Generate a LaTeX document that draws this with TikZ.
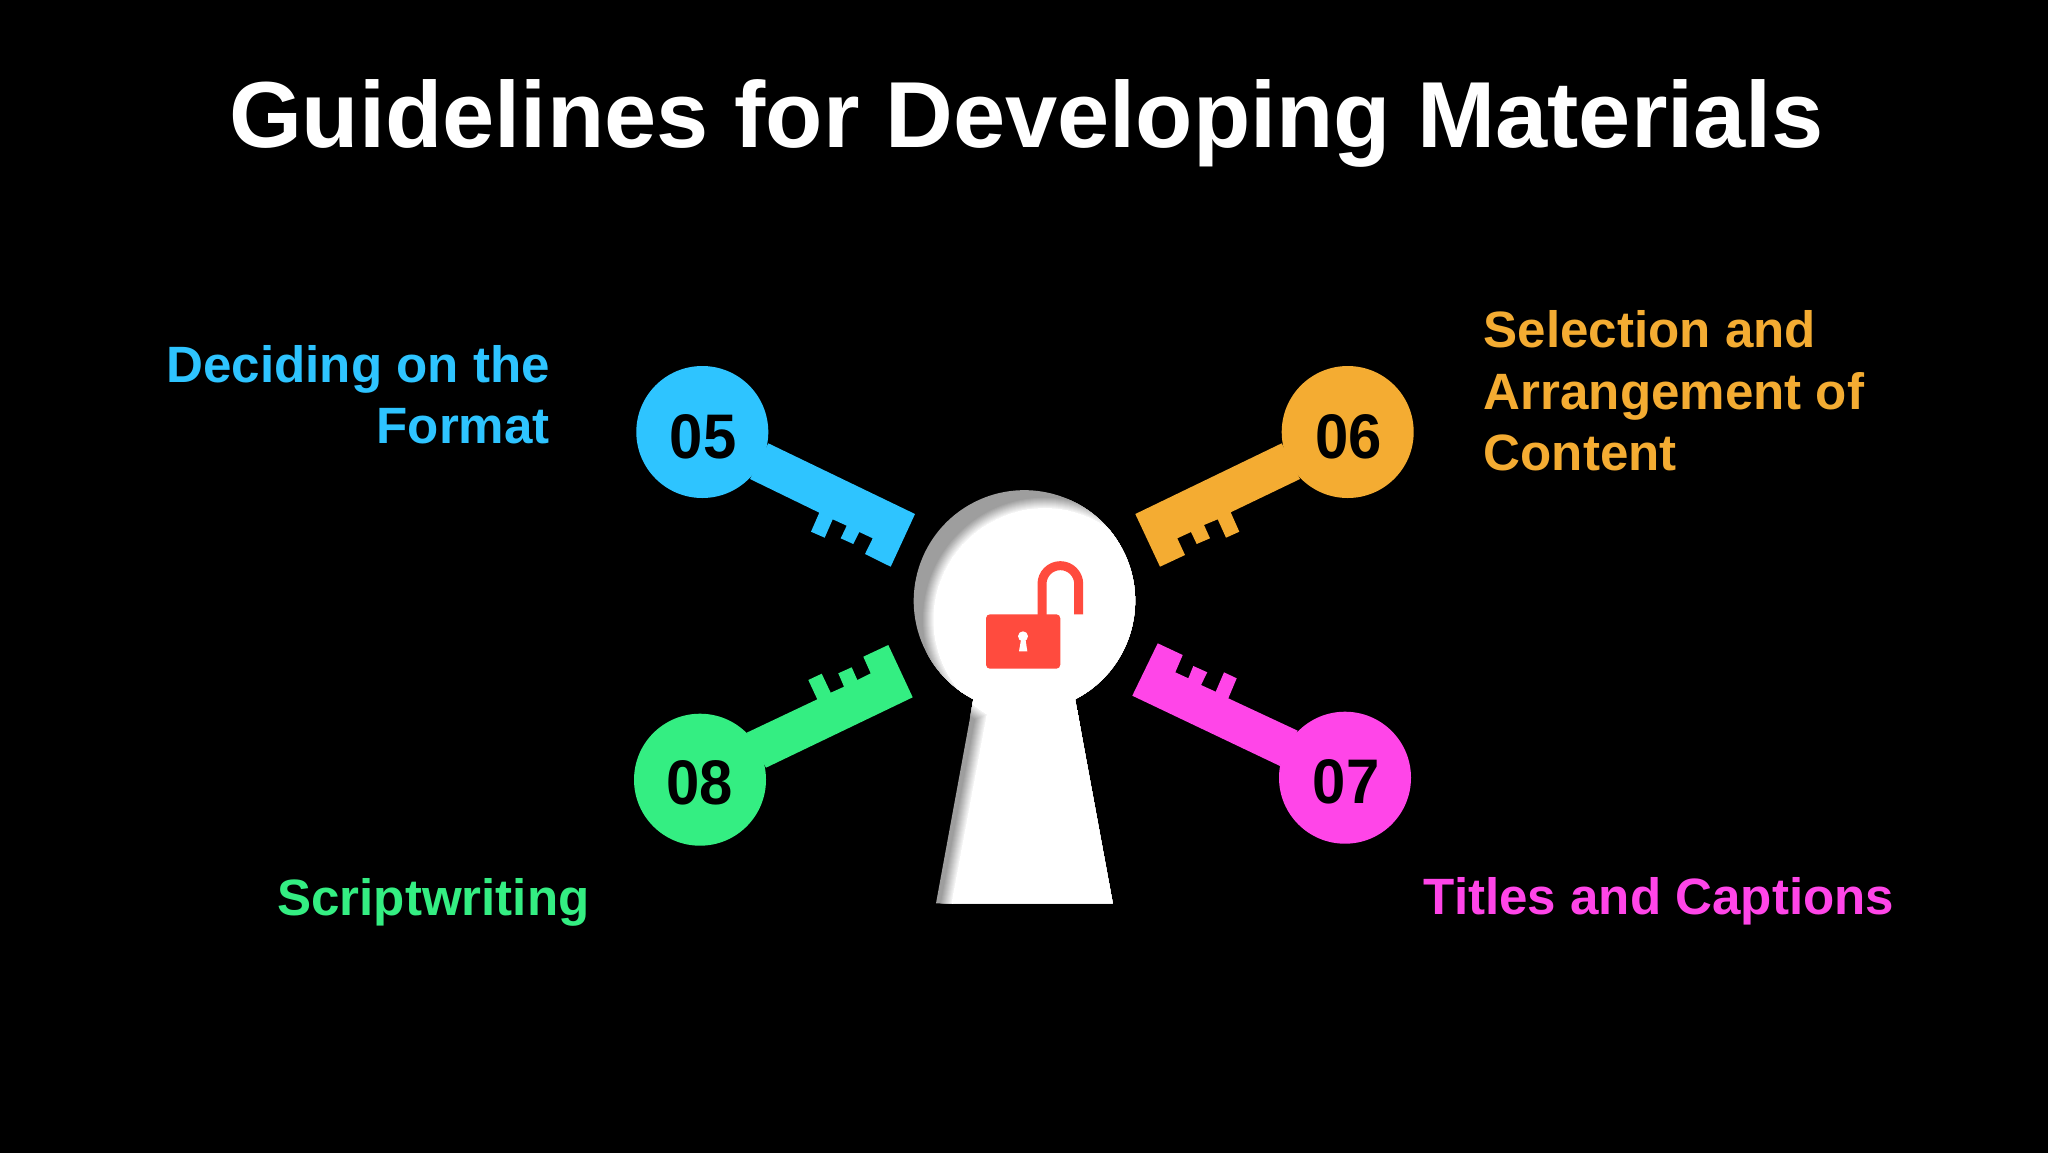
\documentclass[tikz,border=0pt]{standalone}
\usepackage{fontspec}
\setmainfont{Liberation Sans}
\definecolor{kblue}{HTML}{2EC4FF}
\definecolor{korange}{HTML}{F4AC32}
\definecolor{kmagenta}{HTML}{FF45E8}
\definecolor{kgreen}{HTML}{34EE82}
\definecolor{lockred}{HTML}{FF4B3E}
\tikzset{
  titletext/.style={text=white,font=\fontsize{93.8}{100}\selectfont\bfseries,inner sep=0pt},
  labeltext/.style={font=\fontsize{51.1}{61.4}\selectfont\bfseries,inner sep=0pt},
  numtext/.style={text=black,font=\fontsize{63}{63}\selectfont\bfseries,inner sep=0pt},
  keybow/.style={circle,minimum size=132pt,inner sep=0pt,draw=none},
}
\newcommand{\headpath}{(1024.7,601.4) circle[radius=110.7]}
\newcommand{\holepath}{(1075,699.3) arc[start angle=62.8,end angle=-242.6,radius=110.7] -- (936,903.3) -- (1112.7,903.3) -- cycle}
\newcommand{\stempath}{(974,699.3) -- (1075,699.3) -- (1112.7,903.3) -- (936,903.3) -- cycle}
\newcommand{\numlabel}[1]{\scalebox{0.95}[1]{#1}}
\begin{document}
\begin{tikzpicture}[x=1pt,y=1pt,yscale=-1]
\useasboundingbox (0,0) rectangle (2048,1152);
\fill[black] (-5,-5) rectangle (2053,1157);

\node[titletext] (title) at (1026.5,123.5) {Guidelines for Developing Materials};

% keyhole with inner shadow
\begin{scope}
  \clip \holepath;
  \fill[black!38] (900,470) rectangle (1150,920);
  \foreach \i in {0,...,12}{
    \pgfmathsetmacro{\w}{24-2*\i}
    \pgfmathsetmacro{\p}{38-38*\i/12}
    \fill[black!\p,draw=black!\p,line width=\w pt,line join=round,shift={(20,18)}] \headpath;
    \fill[black!\p,draw=black!\p,line width=\w pt,line join=round,shift={(14,11)}] \stempath;
  }
\end{scope}

% open padlock
\draw[lockred,line width=9pt] (1042,620) -- (1042,584) arc[start angle=180,end angle=360,radius=18.35] -- (1078.7,614.3);
\fill[lockred,rounded corners=4pt] (986,614.3) rectangle (1060.3,668.7);
\fill[white] (1023,636.3) circle[radius=5];
\fill[white] (1021.3,638) -- (1019,651.3) -- (1027.3,651.3) -- (1025.3,638) -- cycle;

% keys
\fill[kblue] (768.3,443.3) -- (915,514) -- (890.7,566.7) -- (865,554) -- (872.7,538.3) -- (859.3,532) -- (853.3,544) -- (840.7,538.3) -- (846.7,525.7) -- (832.7,519.3) -- (824.7,537.7) -- (811,531.7) -- (819.3,512.7) -- (750,479) -- cycle;
\node[keybow,fill=kblue] (k5) at (702.3,432) {};
\node[numtext] (n5) at (703.2,436.5) {\numlabel{05}};

\fill[korange] (1281.7,443.3) -- (1135.3,514) -- (1160,566.7) -- (1185,555) -- (1177.3,538.3) -- (1191,532) -- (1196.7,544) -- (1210,538.3) -- (1204,525) -- (1217.7,519.3) -- (1226,537.7) -- (1239.3,531.7) -- (1230.7,512.3) -- (1300,479) -- cycle;
\node[keybow,fill=korange] (k6) at (1347.7,432) {};
\node[numtext] (n6) at (1348.6,436.5) {\numlabel{06}};

\fill[kmagenta] (1297.7,730.7) -- (1228.3,698.3) -- (1236.7,678.3) -- (1224,672.3) -- (1215.7,691.7) -- (1201,685) -- (1207.3,672.3) -- (1193.3,666) -- (1188.3,678.3) -- (1175.3,672.3) -- (1182.7,655) -- (1157.7,643.3) -- (1132.3,695.7) -- (1280,766) -- cycle;
\node[keybow,fill=kmagenta] (k7) at (1345,777.7) {};
\node[numtext] (n7) at (1346,782) {\numlabel{07}};

\fill[kgreen] (746.7,732.7) -- (817.3,699.3) -- (808.3,680) -- (821.7,673.7) -- (830.7,692.7) -- (844,686.7) -- (838.3,673.3) -- (851.7,667.3) -- (857.3,680) -- (870.7,673.3) -- (863.3,656.7) -- (888.3,645) -- (912.7,697.3) -- (766,767.7) -- cycle;
\node[keybow,fill=kgreen] (k8) at (700,779.7) {};
\node[numtext] (n8) at (700,783) {\numlabel{08}};

% labels
\node[labeltext,text=kblue,align=right,anchor=east] (l5) at (550,394.5) {Deciding on the\\Format};
\node[labeltext,text=korange,align=left,anchor=west] (l6) at (1483.5,391) {Selection and\\Arrangement of\\Content};
\node[labeltext,text=kmagenta,anchor=west] (l7) at (1423.5,901) {Titles and Captions};
\node[labeltext,text=kgreen,anchor=west] (l8) at (277,902) {Scriptwriting};
\end{tikzpicture}
\end{document}
